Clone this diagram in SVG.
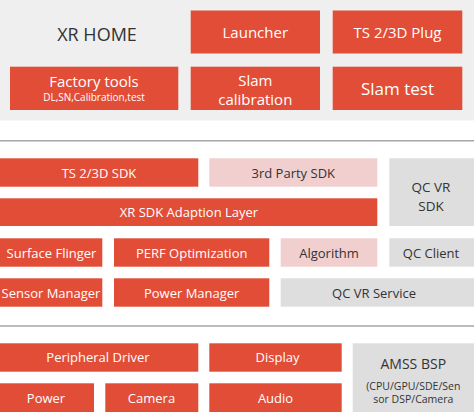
<svg xmlns="http://www.w3.org/2000/svg" width="474" height="412" viewBox="0 0 474 412">
<style>
  .r{fill:#e14d37}
  .p{fill:#f1cfcf}
  .g{fill:#dedede}
  text{font-family:"Open Sans","Noto Sans","Liberation Sans",sans-serif;text-anchor:middle;dominant-baseline:central}
  .w{fill:#ffffff}
  .k{fill:#333333}
  .sep{stroke:#a6a6a6;stroke-width:1.5}
</style>
<rect x="0" y="0" width="474" height="120.5" fill="#efefef"/>
<g id="xr-home"><text class="k" x="97" y="34" font-size="18">XR HOME</text></g>
<g id="launcher"><rect class="r" x="190.7" y="10.5" width="129.3" height="43"/><text class="w" x="255.3" y="32" font-size="15">Launcher</text></g>
<g id="ts-plug"><rect class="r" x="332.7" y="10.5" width="129.6" height="43"/><text class="w" x="397.5" y="32" font-size="15">TS 2/3D Plug</text></g>
<g id="factory"><rect class="r" x="10" y="66.7" width="168.3" height="43.3"/><text class="w" x="94" y="81" font-size="15">Factory tools</text><text class="w" x="94" y="96.7" font-size="10">DL,SN,Calibration,test</text></g>
<g id="slam-cal"><rect class="r" x="190.7" y="66.7" width="129.3" height="43.3"/><text class="w" x="255.3" y="80" font-size="15">Slam</text><text class="w" x="255.3" y="99" font-size="15">calibration</text></g>
<g id="slam-test"><rect class="r" x="332.7" y="66.7" width="129.6" height="43.3"/><text class="w" x="397.5" y="88" font-size="17">Slam test</text></g>
<g id="separators">
  <line class="sep" x1="0" y1="140.8" x2="474" y2="140.8"/>
  <line class="sep" x1="0" y1="326" x2="474" y2="326"/>
</g>
<g id="ts-sdk"><rect class="r" x="0" y="158.3" width="198.3" height="28.4"/><text class="w" x="99" y="172.5" font-size="13">TS 2/3D SDK</text></g>
<g id="third-sdk"><rect class="p" x="209.3" y="158.3" width="168" height="28.4"/><text class="k" x="293.3" y="172.5" font-size="13">3rd Party SDK</text></g>
<g id="qcvr-sdk"><rect class="g" x="389.3" y="158.3" width="84.7" height="67.7"/><text class="k" x="431" y="186.5" font-size="13.5">QC VR</text><text class="k" x="431" y="206" font-size="13.5">SDK</text></g>
<g id="xr-adapt"><rect class="r" x="0" y="198.3" width="377.3" height="27.7"/><text class="w" x="189" y="212.3" font-size="13">XR SDK Adaption Layer</text></g>
<g id="surface"><rect class="r" x="0" y="238.3" width="102.3" height="28.4"/><text class="w" x="51.5" y="252.5" font-size="13">Surface Flinger</text></g>
<g id="perf"><rect class="r" x="114" y="238.3" width="155.3" height="28.4"/><text class="w" x="191.7" y="252.5" font-size="13">PERF Optimization</text></g>
<g id="algorithm"><rect class="p" x="280.7" y="238.3" width="96.6" height="28.4"/><text class="k" x="329" y="252.5" font-size="13">Algorithm</text></g>
<g id="qc-client"><rect class="g" x="389.3" y="238.3" width="84.7" height="28.4"/><text class="k" x="431" y="252.5" font-size="13">QC Client</text></g>
<g id="sensor"><rect class="r" x="0" y="278.3" width="102.3" height="28.4"/><text class="w" x="51" y="292.5" font-size="13">Sensor Manager</text></g>
<g id="power-mgr"><rect class="r" x="114" y="278.3" width="155.3" height="28.4"/><text class="w" x="191.7" y="292.5" font-size="13">Power Manager</text></g>
<g id="qcvr-service"><rect class="g" x="280.7" y="278.3" width="193.3" height="28.4"/><text class="k" x="374" y="292.5" font-size="13">QC VR Service</text></g>
<g id="peripheral"><rect class="r" x="0" y="343.3" width="198.3" height="28.4"/><text class="w" x="98" y="357.3" font-size="13">Peripheral Driver</text></g>
<g id="display"><rect class="r" x="209.3" y="343.3" width="132.4" height="28.4"/><text class="w" x="277.5" y="357.3" font-size="13">Display</text></g>
<g id="amss"><rect class="g" x="352.7" y="343.3" width="121.3" height="68.7"/><text class="k" x="413.3" y="363.5" font-size="14">AMSS BSP</text><text class="k" x="413.3" y="386" font-size="10.5">(CPU/GPU/SDE/Sen</text><text class="k" x="413.3" y="398.5" font-size="10.5">sor DSP/Camera</text></g>
<g id="power"><rect class="r" x="0" y="383.3" width="94" height="28.7"/><text class="w" x="46" y="397.7" font-size="13">Power</text></g>
<g id="camera"><rect class="r" x="105.3" y="383.3" width="93" height="28.7"/><text class="w" x="151.5" y="397.7" font-size="13">Camera</text></g>
<g id="audio"><rect class="r" x="209.3" y="383.3" width="132.4" height="28.7"/><text class="w" x="275.5" y="397.7" font-size="13">Audio</text></g>
</svg>
